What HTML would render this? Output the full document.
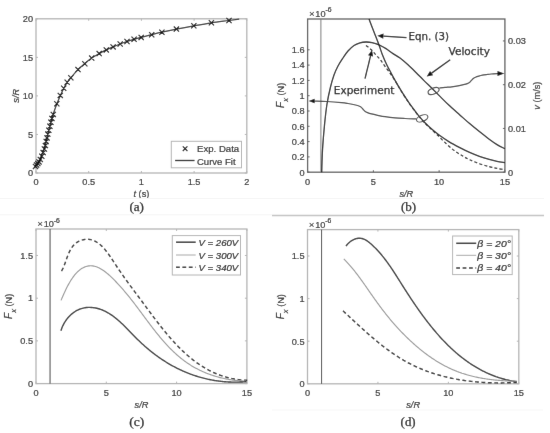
<!DOCTYPE html>
<html><head><meta charset="utf-8"><style>
html,body{margin:0;padding:0;background:#fff;}
svg{display:block;}
.t{font-family:"Liberation Sans",Arial,sans-serif;font-size:9.2px;fill:#2a2a2a;stroke:#2a2a2a;stroke-width:0.2px;}
.ann{font-family:"DejaVu Sans","Liberation Sans",sans-serif;font-size:10.4px;fill:#1a1a1a;stroke:#1a1a1a;stroke-width:0.25px;}
.lg{font-family:"Liberation Sans",Arial,sans-serif;font-size:9.6px;font-style:italic;fill:#222;stroke:#222;stroke-width:0.22px;}
.cap{font-family:"Liberation Serif","Times New Roman",serif;font-size:12.3px;fill:#1a1a1a;stroke:#1a1a1a;stroke-width:0.25px;}
</style></head><body>
<svg width="550" height="433" viewBox="0 0 550 433">
<defs><filter id="bl" x="0" y="0" width="550" height="433" filterUnits="userSpaceOnUse"><feConvolveMatrix order="3" kernelMatrix="0.0035 0.0587 0.0035 0.0587 1.0000 0.0587 0.0035 0.0587 0.0035" divisor="1.2488" edgeMode="duplicate" preserveAlpha="true"/></filter></defs>
<g filter="url(#bl)">
<rect width="550" height="433" fill="#fff"/>
<rect x="36.0" y="18.8" width="210.80" height="154.20" fill="none" stroke="#b4b4b4" stroke-width="1.3"/>
<line x1="36.00" y1="173.0" x2="36.00" y2="171.0" stroke="#b4b4b4" stroke-width="1"/>
<line x1="36.00" y1="18.8" x2="36.00" y2="20.8" stroke="#b4b4b4" stroke-width="1"/>
<text x="36.00" y="185.3" text-anchor="middle" class="t">0</text>
<line x1="88.70" y1="173.0" x2="88.70" y2="171.0" stroke="#b4b4b4" stroke-width="1"/>
<line x1="88.70" y1="18.8" x2="88.70" y2="20.8" stroke="#b4b4b4" stroke-width="1"/>
<text x="88.70" y="185.3" text-anchor="middle" class="t">0.5</text>
<line x1="141.40" y1="173.0" x2="141.40" y2="171.0" stroke="#b4b4b4" stroke-width="1"/>
<line x1="141.40" y1="18.8" x2="141.40" y2="20.8" stroke="#b4b4b4" stroke-width="1"/>
<text x="141.40" y="185.3" text-anchor="middle" class="t">1</text>
<line x1="194.10" y1="173.0" x2="194.10" y2="171.0" stroke="#b4b4b4" stroke-width="1"/>
<line x1="194.10" y1="18.8" x2="194.10" y2="20.8" stroke="#b4b4b4" stroke-width="1"/>
<text x="194.10" y="185.3" text-anchor="middle" class="t">1.5</text>
<line x1="246.80" y1="173.0" x2="246.80" y2="171.0" stroke="#b4b4b4" stroke-width="1"/>
<line x1="246.80" y1="18.8" x2="246.80" y2="20.8" stroke="#b4b4b4" stroke-width="1"/>
<text x="246.80" y="185.3" text-anchor="middle" class="t">2</text>
<line x1="36.0" y1="173.00" x2="38.0" y2="173.00" stroke="#b4b4b4" stroke-width="1"/>
<line x1="246.8" y1="173.00" x2="244.8" y2="173.00" stroke="#b4b4b4" stroke-width="1"/>
<text x="33.0" y="176.30" text-anchor="end" class="t">0</text>
<line x1="36.0" y1="134.45" x2="38.0" y2="134.45" stroke="#b4b4b4" stroke-width="1"/>
<line x1="246.8" y1="134.45" x2="244.8" y2="134.45" stroke="#b4b4b4" stroke-width="1"/>
<text x="33.0" y="137.75" text-anchor="end" class="t">5</text>
<line x1="36.0" y1="95.90" x2="38.0" y2="95.90" stroke="#b4b4b4" stroke-width="1"/>
<line x1="246.8" y1="95.90" x2="244.8" y2="95.90" stroke="#b4b4b4" stroke-width="1"/>
<text x="33.0" y="99.20" text-anchor="end" class="t">10</text>
<line x1="36.0" y1="57.35" x2="38.0" y2="57.35" stroke="#b4b4b4" stroke-width="1"/>
<line x1="246.8" y1="57.35" x2="244.8" y2="57.35" stroke="#b4b4b4" stroke-width="1"/>
<text x="33.0" y="60.65" text-anchor="end" class="t">15</text>
<line x1="36.0" y1="18.80" x2="38.0" y2="18.80" stroke="#b4b4b4" stroke-width="1"/>
<line x1="246.8" y1="18.80" x2="244.8" y2="18.80" stroke="#b4b4b4" stroke-width="1"/>
<text x="33.0" y="22.10" text-anchor="end" class="t">20</text>
<text x="141.4" y="197.3" text-anchor="middle" class="t"><tspan font-style="italic">t</tspan> (s)</text>
<text transform="translate(18.9,95.8) rotate(-90)" text-anchor="middle" class="t" font-style="italic">s/R</text>
<path transform="translate(0,0.4)" d="M34.50,167.00 C34.75,166.67 35.42,165.83 36.00,165.00 C36.58,164.17 37.33,163.08 38.00,162.00 C38.67,160.92 39.40,159.67 40.00,158.50 C40.60,157.33 41.05,156.33 41.60,155.00 C42.15,153.67 42.73,152.00 43.30,150.50 C43.87,149.00 44.52,147.58 45.00,146.00 C45.48,144.42 45.73,143.05 46.20,141.00 C46.67,138.95 47.18,136.22 47.80,133.70 C48.42,131.18 49.22,128.48 49.90,125.90 C50.58,123.32 51.28,120.42 51.90,118.20 C52.52,115.98 52.77,115.07 53.60,112.60 C54.43,110.13 55.77,106.33 56.90,103.40 C58.03,100.47 59.25,97.60 60.40,95.00 C61.55,92.40 62.67,89.98 63.80,87.80 C64.93,85.62 66.03,83.63 67.20,81.90 C68.37,80.17 69.00,79.52 70.80,77.40 C72.60,75.28 75.70,71.55 78.00,69.20 C80.30,66.85 82.32,65.22 84.60,63.30 C86.88,61.38 89.27,59.38 91.70,57.70 C94.13,56.02 96.77,54.57 99.20,53.20 C101.63,51.83 103.98,50.62 106.30,49.50 C108.62,48.38 110.78,47.48 113.10,46.50 C115.42,45.52 117.88,44.50 120.20,43.60 C122.52,42.70 124.68,41.88 127.00,41.10 C129.32,40.32 131.73,39.58 134.10,38.90 C136.47,38.22 138.27,37.77 141.20,37.00 C144.13,36.23 148.25,35.17 151.70,34.30 C155.15,33.43 157.78,32.73 161.90,31.80 C166.02,30.87 171.08,29.77 176.40,28.70 C181.72,27.63 187.97,26.45 193.80,25.40 C199.63,24.35 205.53,23.28 211.40,22.40 C217.27,21.52 224.37,20.72 229.00,20.10 C233.63,19.48 237.50,18.93 239.20,18.70" fill="none" stroke="#333" stroke-width="1.25"/>
<path transform="translate(0,0.4)" d="M32.90,163.40L38.10,168.60M32.90,168.60L38.10,163.40M34.00,162.00L39.20,167.20M34.00,167.20L39.20,162.00M35.20,160.60L40.40,165.80M35.20,165.80L40.40,160.60M36.40,158.90L41.60,164.10M36.40,164.10L41.60,158.90M37.70,156.40L42.90,161.60M37.70,161.60L42.90,156.40M39.20,153.20L44.40,158.40M39.20,158.40L44.40,153.20M40.60,149.60L45.80,154.80M40.60,154.80L45.80,149.60M41.80,146.00L47.00,151.20M41.80,151.20L47.00,146.00M42.80,142.60L48.00,147.80M42.80,147.80L48.00,142.60M43.60,138.40L48.80,143.60M43.60,143.60L48.80,138.40M44.40,134.90L49.60,140.10M44.40,140.10L49.60,134.90M45.20,131.10L50.40,136.30M45.20,136.30L50.40,131.10M46.20,127.20L51.40,132.40M46.20,132.40L51.40,127.20M47.30,123.30L52.50,128.50M47.30,128.50L52.50,123.30M48.30,119.20L53.50,124.40M48.30,124.40L53.50,119.20M49.30,115.40L54.50,120.60M49.30,120.60L54.50,115.40M50.70,111.40L55.90,116.60M50.70,116.60L55.90,111.40M54.20,100.70L59.40,105.90M54.20,105.90L59.40,100.70M57.70,92.40L62.90,97.60M57.70,97.60L62.90,92.40M61.10,85.20L66.30,90.40M61.10,90.40L66.30,85.20M64.60,79.30L69.80,84.50M64.60,84.50L69.80,79.30M68.20,74.80L73.40,80.00M68.20,80.00L73.40,74.80M75.40,66.60L80.60,71.80M75.40,71.80L80.60,66.60M82.20,60.80L87.40,66.00M82.20,66.00L87.40,60.80M89.10,55.10L94.30,60.30M89.10,60.30L94.30,55.10M96.60,50.60L101.80,55.80M96.60,55.80L101.80,50.60M103.70,46.90L108.90,52.10M103.70,52.10L108.90,46.90M110.50,43.90L115.70,49.10M110.50,49.10L115.70,43.90M117.60,41.00L122.80,46.20M117.60,46.20L122.80,41.00M124.40,38.50L129.60,43.70M124.40,43.70L129.60,38.50M131.50,36.30L136.70,41.50M131.50,41.50L136.70,36.30M138.60,34.40L143.80,39.60M138.60,39.60L143.80,34.40M149.10,31.70L154.30,36.90M149.10,36.90L154.30,31.70M159.30,29.20L164.50,34.40M159.30,34.40L164.50,29.20M173.80,26.10L179.00,31.30M173.80,31.30L179.00,26.10M191.20,22.80L196.40,28.00M191.20,28.00L196.40,22.80M208.80,19.80L214.00,25.00M208.80,25.00L214.00,19.80M226.40,17.50L231.60,22.70M226.40,22.70L231.60,17.50" fill="none" stroke="#111" stroke-width="1.1"/>
<rect x="171.3" y="141.3" width="70.2" height="26.5" fill="#fff" stroke="#b4b4b4" stroke-width="1"/>
<path d="M182.79999999999998,146.39999999999998L187.4,151.0M182.79999999999998,151.0L187.4,146.39999999999998" stroke="#111" stroke-width="1.1"/>
<text x="197.0" y="152.0" class="t" font-size="9.8" textLength="42.2" lengthAdjust="spacingAndGlyphs">Exp. Data</text>
<line x1="175.1" y1="160.5" x2="194.5" y2="160.5" stroke="#111" stroke-width="1.3"/>
<text x="197.0" y="164.8" class="t" font-size="9.8" textLength="38.6" lengthAdjust="spacingAndGlyphs">Curve Fit</text>
<text x="129.4" y="211.0" class="cap" textLength="14.6" lengthAdjust="spacingAndGlyphs">(a)</text>
<rect x="307.6" y="19.0" width="197.30" height="153.20" fill="none" stroke="#5e5e5e" stroke-width="1.3"/>
<line x1="307.60" y1="172.2" x2="307.60" y2="170.2" stroke="#5e5e5e" stroke-width="1"/>
<text x="307.60" y="185.0" text-anchor="middle" class="t">0</text>
<line x1="373.37" y1="172.2" x2="373.37" y2="170.2" stroke="#5e5e5e" stroke-width="1"/>
<text x="373.37" y="185.0" text-anchor="middle" class="t">5</text>
<line x1="439.13" y1="172.2" x2="439.13" y2="170.2" stroke="#5e5e5e" stroke-width="1"/>
<text x="439.13" y="185.0" text-anchor="middle" class="t">10</text>
<line x1="504.90" y1="172.2" x2="504.90" y2="170.2" stroke="#5e5e5e" stroke-width="1"/>
<text x="504.90" y="185.0" text-anchor="middle" class="t">15</text>
<line x1="307.6" y1="172.20" x2="309.6" y2="172.20" stroke="#5e5e5e" stroke-width="1"/>
<text x="304.6" y="175.50" text-anchor="end" class="t">0</text>
<line x1="307.6" y1="156.90" x2="309.6" y2="156.90" stroke="#5e5e5e" stroke-width="1"/>
<text x="304.6" y="160.20" text-anchor="end" class="t">0.2</text>
<line x1="307.6" y1="141.60" x2="309.6" y2="141.60" stroke="#5e5e5e" stroke-width="1"/>
<text x="304.6" y="144.90" text-anchor="end" class="t">0.4</text>
<line x1="307.6" y1="126.30" x2="309.6" y2="126.30" stroke="#5e5e5e" stroke-width="1"/>
<text x="304.6" y="129.60" text-anchor="end" class="t">0.6</text>
<line x1="307.6" y1="111.00" x2="309.6" y2="111.00" stroke="#5e5e5e" stroke-width="1"/>
<text x="304.6" y="114.30" text-anchor="end" class="t">0.8</text>
<line x1="307.6" y1="95.70" x2="309.6" y2="95.70" stroke="#5e5e5e" stroke-width="1"/>
<text x="304.6" y="99.00" text-anchor="end" class="t">1</text>
<line x1="307.6" y1="80.40" x2="309.6" y2="80.40" stroke="#5e5e5e" stroke-width="1"/>
<text x="304.6" y="83.70" text-anchor="end" class="t">1.2</text>
<line x1="307.6" y1="65.10" x2="309.6" y2="65.10" stroke="#5e5e5e" stroke-width="1"/>
<text x="304.6" y="68.40" text-anchor="end" class="t">1.4</text>
<line x1="307.6" y1="49.80" x2="309.6" y2="49.80" stroke="#5e5e5e" stroke-width="1"/>
<text x="304.6" y="53.10" text-anchor="end" class="t">1.6</text>
<line x1="504.9" y1="172.20" x2="502.9" y2="172.20" stroke="#5e5e5e" stroke-width="1"/>
<text x="508.0" y="175.50" class="t">0</text>
<line x1="504.9" y1="128.45" x2="502.9" y2="128.45" stroke="#5e5e5e" stroke-width="1"/>
<text x="508.0" y="131.75" class="t">0.01</text>
<line x1="504.9" y1="84.70" x2="502.9" y2="84.70" stroke="#5e5e5e" stroke-width="1"/>
<text x="508.0" y="88.00" class="t">0.02</text>
<line x1="504.9" y1="40.95" x2="502.9" y2="40.95" stroke="#5e5e5e" stroke-width="1"/>
<text x="508.0" y="44.25" class="t">0.03</text>
<line x1="320.9" y1="19.0" x2="320.9" y2="172.2" stroke="#7c7c7c" stroke-width="1"/>
<text x="309" y="16.8" class="t" font-size="8.4"><tspan font-size="9.8" stroke-width="0.1">×</tspan><tspan dx="0.6">10</tspan><tspan dy="-4.3" font-size="6.8">-6</tspan></text>
<text x="406.3" y="197.3" text-anchor="middle" class="t" font-style="italic">s/R</text>
<text transform="translate(283.6,95.3) rotate(-90)" text-anchor="middle" class="t"><tspan font-style="italic" font-size="10">F</tspan><tspan font-style="italic" dy="4.3" font-size="7.6">x</tspan><tspan dy="-4.3"> (N)</tspan></text>
<text transform="translate(539.5,95.6) rotate(-90)" text-anchor="middle" class="t"><tspan font-style="italic">v</tspan> (m/s)</text>
<text x="401.0" y="211.0" class="cap" textLength="15.2" lengthAdjust="spacingAndGlyphs">(b)</text>
<path d="M321.70,172.20 C321.83,168.50 322.03,157.87 322.50,150.00 C322.97,142.13 323.75,132.67 324.50,125.00 C325.25,117.33 326.00,110.33 327.00,104.00 C328.00,97.67 329.33,91.83 330.50,87.00 C331.67,82.17 332.75,78.50 334.00,75.00 C335.25,71.50 336.50,68.83 338.00,66.00 C339.50,63.17 341.33,60.50 343.00,58.00 C344.67,55.50 346.17,53.08 348.00,51.00 C349.83,48.92 352.00,46.87 354.00,45.50 C356.00,44.13 358.00,43.38 360.00,42.80 C362.00,42.22 364.00,42.03 366.00,42.00 C368.00,41.97 369.83,42.13 372.00,42.60 C374.17,43.07 376.67,43.80 379.00,44.80 C381.33,45.80 383.67,47.13 386.00,48.60 C388.33,50.07 390.67,52.02 393.00,53.60 C395.33,55.18 397.50,56.23 400.00,58.10 C402.50,59.97 405.30,62.37 408.00,64.80 C410.70,67.23 413.53,70.07 416.20,72.70 C418.87,75.33 421.30,77.92 424.00,80.60 C426.70,83.28 429.65,86.08 432.40,88.80 C435.15,91.52 437.82,94.23 440.50,96.90 C443.18,99.57 445.28,101.80 448.50,104.80 C451.72,107.80 456.28,111.77 459.80,114.90 C463.32,118.03 466.33,120.82 469.60,123.60 C472.87,126.38 476.13,129.00 479.40,131.60 C482.67,134.20 486.27,137.03 489.20,139.20 C492.13,141.37 494.38,143.00 497.00,144.60 C499.62,146.20 503.58,148.10 504.90,148.80" fill="none" stroke="#222" stroke-width="1.3"/>
<path d="M369.00,19.00 C369.83,21.17 372.33,27.67 374.00,32.00 C375.67,36.33 377.62,41.25 379.00,45.00 C380.38,48.75 381.05,51.30 382.30,54.50 C383.55,57.70 385.02,61.08 386.50,64.20 C387.98,67.32 389.75,70.47 391.20,73.20 C392.65,75.93 393.85,78.18 395.20,80.60 C396.55,83.02 397.95,85.43 399.30,87.70 C400.65,89.97 401.95,92.08 403.30,94.20 C404.65,96.32 406.05,98.40 407.40,100.40 C408.75,102.40 410.05,104.33 411.40,106.20 C412.75,108.07 414.17,109.87 415.50,111.60 C416.83,113.33 418.07,115.00 419.40,116.60 C420.73,118.20 421.60,119.25 423.50,121.20 C425.40,123.15 428.20,125.98 430.80,128.30 C433.40,130.62 436.10,132.88 439.10,135.10 C442.10,137.32 445.35,139.52 448.80,141.60 C452.25,143.68 456.33,145.80 459.80,147.60 C463.27,149.40 466.33,150.95 469.60,152.40 C472.87,153.85 476.13,155.13 479.40,156.30 C482.67,157.47 486.27,158.57 489.20,159.40 C492.13,160.23 494.38,160.77 497.00,161.30 C499.62,161.83 503.58,162.38 504.90,162.60" fill="none" stroke="#222" stroke-width="1.3"/>
<path d="M366.00,45.50 C366.83,46.17 369.33,47.92 371.00,49.50 C372.67,51.08 374.42,53.25 376.00,55.00 C377.58,56.75 379.00,58.12 380.50,60.00 C382.00,61.88 383.33,64.00 385.00,66.30 C386.67,68.60 388.80,71.37 390.50,73.80 C392.20,76.23 393.73,78.53 395.20,80.90 C396.67,83.27 397.95,85.73 399.30,88.00 C400.65,90.27 401.95,92.38 403.30,94.50 C404.65,96.62 406.05,98.70 407.40,100.70 C408.75,102.70 410.05,104.63 411.40,106.50 C412.75,108.37 414.17,110.17 415.50,111.90 C416.83,113.63 418.07,115.28 419.40,116.90 C420.73,118.52 422.23,120.22 423.50,121.60 C424.77,122.98 425.78,124.00 427.00,125.20 C428.22,126.40 429.02,127.12 430.80,128.80 C432.58,130.48 435.17,132.85 437.70,135.30 C440.23,137.75 443.23,140.95 446.00,143.50 C448.77,146.05 451.52,148.52 454.30,150.60 C457.08,152.68 460.15,154.48 462.70,156.00 C465.25,157.52 466.82,158.42 469.60,159.70 C472.38,160.98 476.13,162.55 479.40,163.70 C482.67,164.85 486.27,165.82 489.20,166.60 C492.13,167.38 494.38,167.90 497.00,168.40 C499.62,168.90 503.58,169.40 504.90,169.60" fill="none" stroke="#222" stroke-width="1.2" stroke-dasharray="3,2.2"/>
<text x="408.5" y="39.5" class="ann" textLength="40.5" lengthAdjust="spacingAndGlyphs">Eqn. (3)</text>
<text x="448.5" y="54.8" class="ann" textLength="41.5" lengthAdjust="spacingAndGlyphs">Velocity</text>
<text x="333.8" y="93.6" class="ann" textLength="60.6" lengthAdjust="spacingAndGlyphs">Experiment</text>
<line x1="406.50" y1="37.60" x2="383.39" y2="36.17" stroke="#222" stroke-width="1.3"/>
<path d="M377.40,35.80L383.55,33.58L383.23,38.77Z" fill="#111"/>
<line x1="450.20" y1="59.70" x2="431.57" y2="73.10" stroke="#222" stroke-width="1.3"/>
<path d="M426.70,76.60L430.05,70.99L433.09,75.21Z" fill="#111"/>
<line x1="365.00" y1="78.60" x2="370.57" y2="55.83" stroke="#222" stroke-width="1.3"/>
<path d="M372.00,50.00L373.10,56.45L368.05,55.21Z" fill="#111"/>
<ellipse cx="433.6" cy="91.0" rx="5.8" ry="2.9" transform="rotate(-22 433.6 91)" fill="none" stroke="#444" stroke-width="1.1"/>
<path d="M439.30,88.00 C440.25,87.90 442.92,87.60 445.00,87.40 C447.08,87.20 449.63,87.05 451.80,86.80 C453.97,86.55 456.05,86.25 458.00,85.90 C459.95,85.55 461.95,85.08 463.50,84.70 C465.05,84.32 466.25,84.02 467.30,83.60 C468.35,83.18 469.08,82.77 469.80,82.20 C470.52,81.63 471.02,80.82 471.60,80.20 C472.18,79.58 472.65,79.00 473.30,78.50 C473.95,78.00 474.58,77.60 475.50,77.20 C476.42,76.80 477.65,76.43 478.80,76.10 C479.95,75.77 481.03,75.47 482.40,75.20 C483.77,74.93 485.55,74.70 487.00,74.50 C488.45,74.30 489.18,74.17 491.10,74.00 C493.02,73.83 497.27,73.58 498.50,73.50" fill="none" stroke="#444" stroke-width="1.2"/>
<path d="M504.3,73.4 L497.5,70.9 L497.5,76.0 Z" fill="#111"/>
<ellipse cx="422.2" cy="118.4" rx="6" ry="3.1" transform="rotate(-22 422.2 118.4)" fill="none" stroke="#444" stroke-width="1.1"/>
<path d="M416.40,118.90 C414.50,118.83 408.57,118.67 405.00,118.50 C401.43,118.33 398.33,118.20 395.00,117.90 C391.67,117.60 387.88,117.13 385.00,116.70 C382.12,116.27 379.95,115.77 377.70,115.30 C375.45,114.83 373.20,114.35 371.50,113.90 C369.80,113.45 368.60,113.05 367.50,112.60 C366.40,112.15 365.62,111.72 364.90,111.20 C364.18,110.68 363.75,110.10 363.20,109.50 C362.65,108.90 362.22,108.13 361.60,107.60 C360.98,107.07 360.52,106.73 359.50,106.30 C358.48,105.87 357.42,105.47 355.50,105.00 C353.58,104.53 350.35,103.90 348.00,103.50 C345.65,103.10 344.93,102.93 341.40,102.60 C337.87,102.27 331.32,101.75 326.80,101.50 C322.28,101.25 316.38,101.17 314.30,101.10" fill="none" stroke="#444" stroke-width="1.2"/>
<path d="M308.7,101.0 L314.6,98.7 L314.6,103.3 Z" fill="#111"/>
<rect x="36.0" y="229.0" width="210.90" height="154.60" fill="none" stroke="#b4b4b4" stroke-width="1.3"/>
<line x1="36.00" y1="383.6" x2="36.00" y2="381.6" stroke="#b4b4b4" stroke-width="1"/>
<line x1="36.00" y1="229.0" x2="36.00" y2="231.0" stroke="#b4b4b4" stroke-width="1"/>
<text x="36.00" y="396.0" text-anchor="middle" class="t">0</text>
<line x1="106.30" y1="383.6" x2="106.30" y2="381.6" stroke="#b4b4b4" stroke-width="1"/>
<line x1="106.30" y1="229.0" x2="106.30" y2="231.0" stroke="#b4b4b4" stroke-width="1"/>
<text x="106.30" y="396.0" text-anchor="middle" class="t">5</text>
<line x1="176.60" y1="383.6" x2="176.60" y2="381.6" stroke="#b4b4b4" stroke-width="1"/>
<line x1="176.60" y1="229.0" x2="176.60" y2="231.0" stroke="#b4b4b4" stroke-width="1"/>
<text x="176.60" y="396.0" text-anchor="middle" class="t">10</text>
<line x1="246.90" y1="383.6" x2="246.90" y2="381.6" stroke="#b4b4b4" stroke-width="1"/>
<line x1="246.90" y1="229.0" x2="246.90" y2="231.0" stroke="#b4b4b4" stroke-width="1"/>
<text x="246.90" y="396.0" text-anchor="middle" class="t">15</text>
<line x1="36.0" y1="383.60" x2="38.0" y2="383.60" stroke="#b4b4b4" stroke-width="1"/>
<line x1="246.9" y1="383.60" x2="244.9" y2="383.60" stroke="#b4b4b4" stroke-width="1"/>
<text x="33.0" y="386.90" text-anchor="end" class="t">0</text>
<line x1="36.0" y1="340.89" x2="38.0" y2="340.89" stroke="#b4b4b4" stroke-width="1"/>
<line x1="246.9" y1="340.89" x2="244.9" y2="340.89" stroke="#b4b4b4" stroke-width="1"/>
<text x="33.0" y="344.19" text-anchor="end" class="t">0.5</text>
<line x1="36.0" y1="298.19" x2="38.0" y2="298.19" stroke="#b4b4b4" stroke-width="1"/>
<line x1="246.9" y1="298.19" x2="244.9" y2="298.19" stroke="#b4b4b4" stroke-width="1"/>
<text x="33.0" y="301.49" text-anchor="end" class="t">1</text>
<line x1="36.0" y1="255.48" x2="38.0" y2="255.48" stroke="#b4b4b4" stroke-width="1"/>
<line x1="246.9" y1="255.48" x2="244.9" y2="255.48" stroke="#b4b4b4" stroke-width="1"/>
<text x="33.0" y="258.78" text-anchor="end" class="t">1.5</text>
<line x1="50.06" y1="229.0" x2="50.06" y2="383.6" stroke="#444" stroke-width="1.0"/>
<text x="37.3" y="227.1" class="t" font-size="8.4"><tspan font-size="9.8" stroke-width="0.1">×</tspan><tspan dx="0.6">10</tspan><tspan dy="-4.3" font-size="6.8">-6</tspan></text>
<text x="141.45" y="408.1" text-anchor="middle" class="t" font-style="italic">s/R</text>
<text transform="translate(12.10,306.30) rotate(-90)" text-anchor="middle" class="t"><tspan font-style="italic" font-size="10">F</tspan><tspan font-style="italic" dy="4.3" font-size="7.6">x</tspan><tspan dy="-4.3"> (N)</tspan></text>
<text x="129.2" y="426.20000000000005" class="cap" textLength="15.0" lengthAdjust="spacingAndGlyphs">(c)</text>
<rect x="307.5" y="229.6" width="211.30" height="154.20" fill="none" stroke="#b4b4b4" stroke-width="1.3"/>
<line x1="307.50" y1="383.8" x2="307.50" y2="381.8" stroke="#b4b4b4" stroke-width="1"/>
<line x1="307.50" y1="229.6" x2="307.50" y2="231.6" stroke="#b4b4b4" stroke-width="1"/>
<text x="307.50" y="396.2" text-anchor="middle" class="t">0</text>
<line x1="377.93" y1="383.8" x2="377.93" y2="381.8" stroke="#b4b4b4" stroke-width="1"/>
<line x1="377.93" y1="229.6" x2="377.93" y2="231.6" stroke="#b4b4b4" stroke-width="1"/>
<text x="377.93" y="396.2" text-anchor="middle" class="t">5</text>
<line x1="448.37" y1="383.8" x2="448.37" y2="381.8" stroke="#b4b4b4" stroke-width="1"/>
<line x1="448.37" y1="229.6" x2="448.37" y2="231.6" stroke="#b4b4b4" stroke-width="1"/>
<text x="448.37" y="396.2" text-anchor="middle" class="t">10</text>
<line x1="518.80" y1="383.8" x2="518.80" y2="381.8" stroke="#b4b4b4" stroke-width="1"/>
<line x1="518.80" y1="229.6" x2="518.80" y2="231.6" stroke="#b4b4b4" stroke-width="1"/>
<text x="518.80" y="396.2" text-anchor="middle" class="t">15</text>
<line x1="307.5" y1="383.80" x2="309.5" y2="383.80" stroke="#b4b4b4" stroke-width="1"/>
<line x1="518.8" y1="383.80" x2="516.8" y2="383.80" stroke="#b4b4b4" stroke-width="1"/>
<text x="304.5" y="387.10" text-anchor="end" class="t">0</text>
<line x1="307.5" y1="341.20" x2="309.5" y2="341.20" stroke="#b4b4b4" stroke-width="1"/>
<line x1="518.8" y1="341.20" x2="516.8" y2="341.20" stroke="#b4b4b4" stroke-width="1"/>
<text x="304.5" y="344.50" text-anchor="end" class="t">0.5</text>
<line x1="307.5" y1="298.61" x2="309.5" y2="298.61" stroke="#b4b4b4" stroke-width="1"/>
<line x1="518.8" y1="298.61" x2="516.8" y2="298.61" stroke="#b4b4b4" stroke-width="1"/>
<text x="304.5" y="301.91" text-anchor="end" class="t">1</text>
<line x1="307.5" y1="256.01" x2="309.5" y2="256.01" stroke="#b4b4b4" stroke-width="1"/>
<line x1="518.8" y1="256.01" x2="516.8" y2="256.01" stroke="#b4b4b4" stroke-width="1"/>
<text x="304.5" y="259.31" text-anchor="end" class="t">1.5</text>
<line x1="321.59" y1="229.6" x2="321.59" y2="383.8" stroke="#444" stroke-width="1.0"/>
<text x="308.8" y="227.7" class="t" font-size="8.4"><tspan font-size="9.8" stroke-width="0.1">×</tspan><tspan dx="0.6">10</tspan><tspan dy="-4.3" font-size="6.8">-6</tspan></text>
<text x="413.15" y="408.3" text-anchor="middle" class="t" font-style="italic">s/R</text>
<text transform="translate(283.60,306.70) rotate(-90)" text-anchor="middle" class="t"><tspan font-style="italic" font-size="10">F</tspan><tspan font-style="italic" dy="4.3" font-size="7.6">x</tspan><tspan dy="-4.3"> (N)</tspan></text>
<text x="400.6" y="426.40000000000003" class="cap" textLength="15.0" lengthAdjust="spacingAndGlyphs">(d)</text>
<path d="M61.47,271.03 L61.89,270.38 L62.29,269.68 L62.69,268.93 L63.07,268.14 L63.44,267.31 L63.81,266.44 L64.17,265.53 L64.53,264.60 L64.88,263.64 L65.23,262.66 L65.59,261.66 L65.95,260.64 L66.31,259.61 L66.68,258.58 L67.06,257.54 L67.45,256.50 L67.85,255.46 L68.27,254.43 L68.70,253.40 L69.15,252.40 L69.62,251.41 L70.11,250.44 L70.63,249.49 L71.16,248.57 L71.73,247.69 L72.33,246.84 L72.95,246.03 L73.61,245.26 L74.30,244.54 L75.02,243.87 L75.77,243.24 L76.55,242.66 L77.36,242.12 L78.19,241.63 L79.03,241.19 L79.90,240.79 L80.78,240.44 L81.67,240.14 L82.57,239.88 L83.48,239.67 L84.40,239.51 L85.32,239.39 L86.24,239.32 L87.15,239.30 L88.07,239.32 L88.97,239.39 L89.87,239.50 L90.76,239.66 L91.63,239.87 L92.49,240.12 L93.33,240.41 L94.16,240.75 L94.98,241.13 L95.78,241.55 L96.57,242.00 L97.35,242.49 L98.12,243.02 L98.88,243.58 L99.62,244.17 L100.35,244.79 L101.08,245.44 L101.79,246.12 L102.50,246.82 L103.19,247.55 L103.88,248.30 L104.55,249.08 L105.22,249.87 L105.89,250.68 L106.54,251.51 L107.19,252.35 L107.83,253.21 L108.47,254.08 L109.10,254.96 L109.72,255.85 L110.34,256.75 L110.96,257.66 L111.57,258.57 L112.17,259.48 L112.78,260.40 L113.38,261.32 L113.98,262.23 L114.57,263.14 L115.17,264.05 L115.76,264.96 L116.35,265.86 L116.95,266.75 L117.54,267.63 L118.12,268.51 L118.71,269.38 L119.30,270.25 L119.89,271.11 L120.47,271.96 L121.06,272.81 L121.64,273.65 L122.23,274.49 L122.81,275.33 L123.40,276.15 L123.98,276.98 L124.56,277.80 L125.14,278.62 L125.72,279.43 L126.31,280.24 L126.89,281.04 L127.47,281.85 L128.05,282.65 L128.63,283.44 L129.21,284.24 L129.79,285.03 L130.37,285.82 L130.95,286.61 L131.53,287.39 L132.11,288.18 L132.69,288.96 L133.27,289.75 L133.85,290.53 L134.43,291.31 L135.01,292.09 L135.59,292.87 L136.17,293.65 L136.76,294.43 L137.34,295.21 L137.92,295.99 L138.50,296.78 L139.09,297.56 L139.67,298.34 L140.26,299.13 L140.84,299.92 L141.43,300.71 L142.01,301.50 L142.60,302.29 L143.19,303.09 L143.78,303.88 L144.37,304.68 L144.96,305.48 L145.55,306.28 L146.14,307.09 L146.74,307.89 L147.33,308.70 L147.93,309.50 L148.53,310.31 L149.12,311.12 L149.72,311.93 L150.33,312.74 L150.93,313.55 L151.53,314.36 L152.14,315.17 L152.75,315.98 L153.35,316.79 L153.96,317.60 L154.58,318.41 L155.19,319.22 L155.81,320.03 L156.42,320.84 L157.04,321.64 L157.66,322.45 L158.29,323.26 L158.91,324.06 L159.54,324.87 L160.17,325.67 L160.80,326.47 L161.43,327.27 L162.07,328.07 L162.71,328.86 L163.35,329.66 L163.99,330.45 L164.63,331.24 L165.28,332.03 L165.93,332.81 L166.59,333.60 L167.24,334.38 L167.90,335.16 L168.56,335.93 L169.22,336.71 L169.89,337.48 L170.56,338.24 L171.23,339.01 L171.91,339.77 L172.58,340.52 L173.26,341.28 L173.95,342.03 L174.64,342.77 L175.33,343.51 L176.02,344.25 L176.72,344.98 L177.42,345.71 L178.12,346.44 L178.83,347.16 L179.54,347.88 L180.25,348.59 L180.97,349.29 L181.69,350.00 L182.42,350.69 L183.14,351.38 L183.88,352.07 L184.61,352.75 L185.35,353.43 L186.10,354.10 L186.84,354.76 L187.59,355.42 L188.35,356.07 L189.11,356.72 L189.87,357.36 L190.64,357.99 L191.41,358.62 L192.19,359.24 L192.97,359.85 L193.76,360.46 L194.55,361.06 L195.34,361.66 L196.14,362.24 L196.94,362.82 L197.75,363.39 L198.56,363.96 L199.38,364.52 L200.20,365.07 L201.02,365.61 L201.86,366.14 L202.69,366.67 L203.53,367.19 L204.38,367.70 L205.23,368.20 L206.09,368.69 L206.95,369.17 L207.81,369.65 L208.68,370.12 L209.56,370.57 L210.44,371.02 L211.33,371.46 L212.22,371.89 L213.12,372.32 L214.02,372.73 L214.93,373.13 L215.85,373.52 L216.77,373.90 L217.69,374.28 L218.62,374.64 L219.56,374.99 L220.50,375.34 L221.45,375.67 L222.41,375.99 L223.37,376.30 L224.34,376.60 L225.31,376.89 L226.29,377.17 L227.27,377.44 L228.26,377.69 L229.26,377.94 L230.26,378.17 L231.27,378.39 L232.29,378.60 L233.31,378.80 L234.34,378.99 L235.38,379.16 L236.42,379.32 L237.47,379.48 L238.52,379.61 L239.59,379.74 L240.66,379.85 L241.73,379.95 L242.81,380.04 L243.90,380.12 L245.00,380.18 L246.10,380.23 L247.21,380.26" fill="none" stroke="#333" stroke-width="1.45" stroke-dasharray="3.8,2.6"/>
<path d="M61.04,300.37 L61.35,299.64 L61.67,298.88 L62.01,298.09 L62.36,297.28 L62.72,296.43 L63.10,295.57 L63.49,294.68 L63.89,293.78 L64.30,292.86 L64.73,291.92 L65.18,290.97 L65.63,290.01 L66.10,289.04 L66.58,288.07 L67.08,287.09 L67.58,286.11 L68.10,285.13 L68.64,284.15 L69.19,283.18 L69.75,282.21 L70.32,281.26 L70.90,280.31 L71.50,279.37 L72.12,278.46 L72.74,277.55 L73.38,276.67 L74.03,275.81 L74.70,274.97 L75.37,274.16 L76.06,273.38 L76.77,272.63 L77.48,271.90 L78.21,271.22 L78.95,270.57 L79.71,269.95 L80.48,269.38 L81.25,268.85 L82.04,268.35 L82.84,267.90 L83.64,267.49 L84.46,267.12 L85.28,266.79 L86.11,266.51 L86.94,266.27 L87.78,266.08 L88.62,265.93 L89.47,265.83 L90.32,265.78 L91.17,265.78 L92.02,265.82 L92.87,265.91 L93.72,266.06 L94.57,266.24 L95.42,266.47 L96.27,266.74 L97.12,267.06 L97.97,267.41 L98.82,267.80 L99.66,268.22 L100.50,268.68 L101.34,269.17 L102.18,269.69 L103.01,270.23 L103.84,270.81 L104.67,271.41 L105.49,272.03 L106.31,272.68 L107.12,273.34 L107.93,274.02 L108.73,274.72 L109.53,275.44 L110.32,276.17 L111.11,276.90 L111.89,277.65 L112.66,278.41 L113.43,279.17 L114.19,279.94 L114.94,280.71 L115.69,281.49 L116.42,282.26 L117.15,283.03 L117.87,283.80 L118.59,284.57 L119.30,285.35 L120.00,286.12 L120.69,286.89 L121.38,287.66 L122.06,288.43 L122.73,289.20 L123.40,289.98 L124.06,290.75 L124.72,291.52 L125.38,292.30 L126.02,293.07 L126.67,293.85 L127.31,294.62 L127.94,295.40 L128.57,296.17 L129.20,296.95 L129.82,297.73 L130.44,298.50 L131.06,299.28 L131.67,300.06 L132.28,300.84 L132.89,301.63 L133.49,302.41 L134.10,303.19 L134.70,303.98 L135.30,304.77 L135.90,305.55 L136.49,306.34 L137.09,307.13 L137.69,307.92 L138.28,308.72 L138.88,309.51 L139.47,310.31 L140.06,311.11 L140.66,311.91 L141.25,312.71 L141.85,313.51 L142.44,314.31 L143.04,315.12 L143.64,315.92 L144.24,316.73 L144.84,317.54 L145.44,318.35 L146.04,319.16 L146.64,319.97 L147.24,320.77 L147.85,321.58 L148.45,322.39 L149.06,323.20 L149.67,324.01 L150.28,324.82 L150.90,325.62 L151.51,326.43 L152.13,327.24 L152.75,328.04 L153.37,328.84 L153.99,329.64 L154.61,330.44 L155.24,331.24 L155.87,332.04 L156.50,332.83 L157.14,333.62 L157.78,334.41 L158.42,335.20 L159.06,335.98 L159.71,336.76 L160.36,337.54 L161.01,338.32 L161.66,339.09 L162.32,339.86 L162.98,340.62 L163.65,341.38 L164.32,342.14 L164.99,342.90 L165.67,343.64 L166.35,344.39 L167.03,345.13 L167.72,345.87 L168.41,346.60 L169.10,347.33 L169.80,348.05 L170.51,348.77 L171.22,349.48 L171.93,350.18 L172.65,350.88 L173.37,351.58 L174.10,352.27 L174.83,352.95 L175.56,353.63 L176.30,354.30 L177.05,354.96 L177.80,355.62 L178.56,356.27 L179.32,356.91 L180.09,357.55 L180.86,358.18 L181.64,358.80 L182.42,359.42 L183.21,360.02 L184.00,360.62 L184.80,361.22 L185.61,361.80 L186.42,362.37 L187.24,362.94 L188.06,363.50 L188.90,364.05 L189.73,364.59 L190.58,365.12 L191.42,365.65 L192.28,366.16 L193.14,366.67 L194.00,367.17 L194.88,367.66 L195.75,368.14 L196.63,368.61 L197.52,369.07 L198.41,369.53 L199.31,369.97 L200.21,370.41 L201.12,370.84 L202.03,371.26 L202.94,371.67 L203.86,372.07 L204.79,372.47 L205.72,372.85 L206.65,373.23 L207.59,373.59 L208.53,373.95 L209.47,374.30 L210.42,374.64 L211.37,374.98 L212.32,375.30 L213.28,375.62 L214.24,375.92 L215.21,376.22 L216.17,376.51 L217.15,376.79 L218.12,377.06 L219.09,377.32 L220.07,377.58 L221.05,377.82 L222.04,378.06 L223.02,378.28 L224.01,378.50 L225.00,378.71 L225.99,378.91 L226.99,379.10 L227.98,379.29 L228.98,379.46 L229.98,379.62 L230.98,379.78 L231.98,379.93 L232.98,380.07 L233.98,380.20 L234.99,380.32 L235.99,380.43 L237.00,380.53 L238.01,380.63 L239.01,380.71 L240.02,380.79 L241.03,380.85 L242.04,380.91 L243.05,380.96 L244.06,381.00 L245.07,381.03 L246.07,381.06" fill="none" stroke="#999" stroke-width="1.15"/>
<path d="M60.92,330.78 L61.26,329.71 L61.63,328.65 L62.04,327.60 L62.47,326.58 L62.93,325.57 L63.41,324.59 L63.93,323.62 L64.47,322.68 L65.03,321.76 L65.62,320.86 L66.23,319.98 L66.86,319.13 L67.52,318.30 L68.20,317.49 L68.90,316.72 L69.62,315.96 L70.36,315.24 L71.11,314.54 L71.89,313.87 L72.68,313.23 L73.49,312.62 L74.31,312.04 L75.15,311.49 L76.00,310.98 L76.87,310.49 L77.75,310.04 L78.64,309.62 L79.54,309.24 L80.46,308.89 L81.38,308.58 L82.31,308.30 L83.25,308.06 L84.20,307.86 L85.16,307.70 L86.12,307.57 L87.09,307.47 L88.05,307.42 L89.03,307.39 L90.00,307.39 L90.97,307.43 L91.95,307.50 L92.92,307.60 L93.89,307.72 L94.85,307.88 L95.81,308.06 L96.77,308.27 L97.71,308.50 L98.65,308.76 L99.59,309.04 L100.51,309.35 L101.42,309.68 L102.32,310.02 L103.21,310.39 L104.09,310.78 L104.97,311.20 L105.83,311.62 L106.69,312.07 L107.54,312.54 L108.38,313.02 L109.21,313.52 L110.03,314.04 L110.85,314.58 L111.66,315.12 L112.46,315.69 L113.26,316.27 L114.05,316.86 L114.84,317.46 L115.62,318.08 L116.39,318.71 L117.16,319.35 L117.92,320.00 L118.68,320.66 L119.44,321.34 L120.19,322.02 L120.94,322.71 L121.69,323.40 L122.43,324.11 L123.17,324.82 L123.90,325.54 L124.64,326.26 L125.37,326.99 L126.10,327.72 L126.83,328.46 L127.56,329.20 L128.28,329.95 L129.01,330.69 L129.74,331.44 L130.46,332.19 L131.19,332.94 L131.91,333.69 L132.64,334.44 L133.37,335.19 L134.10,335.94 L134.83,336.68 L135.56,337.43 L136.30,338.16 L137.03,338.90 L137.77,339.63 L138.51,340.36 L139.26,341.08 L140.01,341.79 L140.76,342.50 L141.51,343.21 L142.27,343.91 L143.03,344.60 L143.80,345.29 L144.56,345.97 L145.33,346.65 L146.10,347.32 L146.88,347.99 L147.66,348.65 L148.44,349.31 L149.22,349.96 L150.01,350.60 L150.80,351.24 L151.59,351.87 L152.39,352.50 L153.19,353.12 L153.99,353.74 L154.80,354.35 L155.60,354.95 L156.41,355.55 L157.23,356.14 L158.05,356.73 L158.87,357.31 L159.69,357.88 L160.51,358.45 L161.34,359.02 L162.17,359.57 L163.01,360.12 L163.85,360.67 L164.69,361.21 L165.53,361.74 L166.37,362.26 L167.22,362.78 L168.08,363.30 L168.93,363.81 L169.79,364.31 L170.65,364.80 L171.51,365.29 L172.38,365.77 L173.25,366.25 L174.12,366.72 L175.00,367.18 L175.87,367.64 L176.75,368.09 L177.64,368.53 L178.52,368.97 L179.41,369.40 L180.31,369.82 L181.20,370.24 L182.10,370.65 L183.00,371.05 L183.90,371.45 L184.81,371.84 L185.72,372.22 L186.63,372.60 L187.55,372.97 L188.47,373.33 L189.39,373.69 L190.31,374.04 L191.24,374.38 L192.17,374.71 L193.10,375.04 L194.04,375.36 L194.97,375.68 L195.92,375.99 L196.86,376.29 L197.81,376.58 L198.75,376.86 L199.71,377.14 L200.66,377.41 L201.62,377.68 L202.58,377.93 L203.54,378.18 L204.51,378.42 L205.48,378.66 L206.45,378.89 L207.43,379.11 L208.40,379.32 L209.38,379.52 L210.37,379.72 L211.35,379.91 L212.34,380.09 L213.33,380.27 L214.33,380.44 L215.32,380.59 L216.32,380.75 L217.33,380.89 L218.33,381.03 L219.34,381.16 L220.35,381.28 L221.36,381.39 L222.38,381.50 L223.40,381.59 L224.42,381.68 L225.45,381.76 L226.47,381.84 L227.50,381.90 L228.54,381.96 L229.57,382.01 L230.61,382.05 L231.65,382.09 L232.70,382.11 L233.74,382.13 L234.79,382.14 L235.84,382.14 L236.90,382.13 L237.96,382.12 L239.02,382.09 L240.08,382.06 L241.15,382.02 L242.21,381.97 L243.28,381.91 L244.36,381.85 L245.44,381.77 L246.51,381.69" fill="none" stroke="#383838" stroke-width="1.4"/>
<rect x="172.3" y="235.6" width="68.2" height="39.4" fill="#fff" stroke="#b4b4b4" stroke-width="1"/>
<line x1="176" y1="242.2" x2="195.7" y2="242.2" stroke="#333" stroke-width="1.5"/>
<line x1="176" y1="255.0" x2="195.7" y2="255.0" stroke="#a8a8a8" stroke-width="1.0"/>
<line x1="176" y1="267.2" x2="195.7" y2="267.2" stroke="#333" stroke-width="1.45" stroke-dasharray="3.8,2.6"/>
<text x="198.5" y="246.3" class="lg">V = 260V</text>
<text x="198.5" y="258.6" class="lg">V = 300V</text>
<text x="198.5" y="270.8" class="lg">V = 340V</text>
<path d="M346.02,246.12 L346.61,245.27 L347.26,244.45 L347.97,243.65 L348.73,242.90 L349.55,242.18 L350.41,241.51 L351.30,240.89 L352.22,240.32 L353.18,239.81 L354.14,239.36 L355.13,238.98 L356.12,238.67 L357.11,238.44 L358.09,238.29 L359.07,238.22 L360.03,238.23 L360.97,238.33 L361.90,238.51 L362.81,238.76 L363.70,239.08 L364.58,239.46 L365.45,239.90 L366.30,240.39 L367.14,240.92 L367.96,241.50 L368.78,242.11 L369.58,242.74 L370.37,243.41 L371.14,244.09 L371.91,244.78 L372.67,245.49 L373.41,246.19 L374.15,246.91 L374.87,247.63 L375.59,248.35 L376.30,249.08 L377.00,249.81 L377.69,250.55 L378.37,251.29 L379.04,252.04 L379.70,252.79 L380.36,253.55 L381.01,254.31 L381.65,255.07 L382.29,255.84 L382.91,256.61 L383.54,257.39 L384.15,258.17 L384.76,258.95 L385.36,259.74 L385.96,260.53 L386.55,261.33 L387.14,262.13 L387.72,262.93 L388.29,263.73 L388.87,264.54 L389.43,265.35 L390.00,266.16 L390.56,266.97 L391.12,267.79 L391.67,268.61 L392.22,269.44 L392.77,270.26 L393.31,271.09 L393.85,271.92 L394.39,272.75 L394.93,273.58 L395.47,274.42 L396.00,275.25 L396.54,276.09 L397.07,276.93 L397.60,277.77 L398.13,278.62 L398.67,279.46 L399.20,280.31 L399.73,281.15 L400.26,282.00 L400.80,282.85 L401.33,283.70 L401.86,284.55 L402.40,285.40 L402.94,286.25 L403.48,287.10 L404.02,287.95 L404.56,288.80 L405.11,289.65 L405.65,290.50 L406.20,291.36 L406.75,292.21 L407.30,293.06 L407.85,293.91 L408.41,294.76 L408.97,295.61 L409.52,296.46 L410.08,297.32 L410.64,298.17 L411.21,299.02 L411.77,299.86 L412.34,300.71 L412.91,301.56 L413.48,302.41 L414.06,303.25 L414.63,304.10 L415.21,304.94 L415.79,305.79 L416.37,306.63 L416.95,307.47 L417.54,308.31 L418.13,309.15 L418.72,309.99 L419.31,310.82 L419.90,311.65 L420.50,312.49 L421.10,313.32 L421.70,314.15 L422.30,314.98 L422.91,315.80 L423.52,316.62 L424.13,317.45 L424.74,318.27 L425.36,319.08 L425.98,319.90 L426.60,320.71 L427.22,321.52 L427.85,322.33 L428.47,323.14 L429.10,323.94 L429.74,324.74 L430.37,325.54 L431.01,326.34 L431.66,327.13 L432.30,327.92 L432.95,328.71 L433.60,329.50 L434.25,330.28 L434.90,331.06 L435.56,331.83 L436.22,332.60 L436.89,333.37 L437.56,334.14 L438.23,334.90 L438.90,335.66 L439.57,336.41 L440.25,337.17 L440.94,337.91 L441.62,338.66 L442.31,339.40 L443.00,340.13 L443.70,340.87 L444.39,341.60 L445.09,342.32 L445.80,343.04 L446.51,343.76 L447.22,344.47 L447.93,345.18 L448.65,345.88 L449.37,346.58 L450.09,347.27 L450.82,347.96 L451.55,348.65 L452.29,349.33 L453.02,350.00 L453.76,350.67 L454.51,351.34 L455.26,352.00 L456.01,352.66 L456.76,353.31 L457.52,353.95 L458.29,354.59 L459.05,355.23 L459.82,355.86 L460.60,356.48 L461.37,357.10 L462.16,357.71 L462.94,358.32 L463.73,358.92 L464.52,359.52 L465.32,360.11 L466.12,360.69 L466.92,361.27 L467.73,361.84 L468.55,362.41 L469.36,362.97 L470.18,363.52 L471.01,364.07 L471.84,364.61 L472.67,365.15 L473.51,365.67 L474.35,366.20 L475.19,366.71 L476.04,367.22 L476.89,367.72 L477.75,368.22 L478.61,368.70 L479.48,369.18 L480.35,369.66 L481.23,370.12 L482.10,370.58 L482.99,371.04 L483.88,371.48 L484.77,371.92 L485.67,372.35 L486.57,372.77 L487.47,373.19 L488.38,373.60 L489.30,374.00 L490.22,374.39 L491.14,374.77 L492.07,375.15 L493.01,375.52 L493.94,375.88 L494.89,376.23 L495.83,376.58 L496.79,376.91 L497.74,377.24 L498.71,377.56 L499.67,377.87 L500.64,378.17 L501.62,378.47 L502.60,378.75 L503.59,379.03 L504.58,379.30 L505.58,379.56 L506.58,379.81 L507.59,380.05 L508.60,380.28 L509.61,380.51 L510.64,380.72 L511.66,380.93 L512.69,381.12 L513.73,381.31 L514.77,381.49 L515.82,381.66 L516.87,381.81" fill="none" stroke="#383838" stroke-width="1.4"/>
<path d="M343.81,258.91 L344.53,259.62 L345.23,260.35 L345.94,261.08 L346.63,261.81 L347.32,262.55 L348.00,263.29 L348.67,264.04 L349.34,264.79 L350.01,265.55 L350.66,266.31 L351.32,267.08 L351.96,267.85 L352.60,268.62 L353.24,269.40 L353.87,270.18 L354.50,270.97 L355.12,271.76 L355.74,272.55 L356.36,273.34 L356.97,274.14 L357.58,274.94 L358.18,275.74 L358.78,276.55 L359.38,277.36 L359.98,278.17 L360.57,278.98 L361.16,279.80 L361.74,280.61 L362.33,281.43 L362.91,282.25 L363.49,283.07 L364.07,283.89 L364.65,284.71 L365.23,285.54 L365.80,286.36 L366.38,287.19 L366.95,288.02 L367.53,288.84 L368.10,289.67 L368.67,290.50 L369.25,291.32 L369.82,292.15 L370.39,292.98 L370.97,293.80 L371.54,294.63 L372.12,295.45 L372.70,296.28 L373.27,297.10 L373.85,297.92 L374.44,298.74 L375.02,299.56 L375.60,300.38 L376.19,301.20 L376.78,302.01 L377.37,302.83 L377.96,303.64 L378.55,304.45 L379.15,305.26 L379.75,306.07 L380.35,306.88 L380.95,307.68 L381.56,308.49 L382.16,309.29 L382.77,310.09 L383.39,310.88 L384.00,311.68 L384.62,312.47 L385.24,313.27 L385.86,314.06 L386.49,314.84 L387.12,315.63 L387.75,316.41 L388.38,317.20 L389.02,317.97 L389.66,318.75 L390.30,319.53 L390.95,320.30 L391.60,321.07 L392.25,321.83 L392.91,322.60 L393.57,323.36 L394.23,324.12 L394.90,324.88 L395.57,325.63 L396.25,326.38 L396.92,327.13 L397.60,327.88 L398.29,328.62 L398.97,329.36 L399.67,330.10 L400.36,330.84 L401.06,331.57 L401.76,332.30 L402.46,333.02 L403.17,333.75 L403.88,334.47 L404.59,335.19 L405.31,335.90 L406.03,336.61 L406.75,337.32 L407.48,338.03 L408.21,338.73 L408.94,339.43 L409.68,340.12 L410.42,340.82 L411.16,341.50 L411.91,342.19 L412.66,342.87 L413.41,343.55 L414.16,344.22 L414.92,344.89 L415.69,345.56 L416.45,346.22 L417.22,346.88 L417.99,347.53 L418.77,348.18 L419.55,348.83 L420.33,349.47 L421.12,350.10 L421.91,350.74 L422.70,351.36 L423.50,351.98 L424.29,352.60 L425.10,353.21 L425.90,353.82 L426.71,354.42 L427.53,355.02 L428.34,355.61 L429.16,356.19 L429.98,356.77 L430.81,357.34 L431.64,357.91 L432.47,358.47 L433.31,359.03 L434.15,359.58 L435.00,360.13 L435.84,360.66 L436.69,361.20 L437.55,361.72 L438.41,362.24 L439.27,362.75 L440.13,363.26 L441.00,363.76 L441.87,364.25 L442.75,364.74 L443.63,365.21 L444.51,365.69 L445.39,366.15 L446.28,366.61 L447.18,367.06 L448.07,367.50 L448.97,367.93 L449.88,368.36 L450.78,368.78 L451.69,369.19 L452.61,369.60 L453.53,369.99 L454.45,370.38 L455.37,370.76 L456.30,371.13 L457.23,371.50 L458.17,371.85 L459.11,372.20 L460.05,372.54 L461.00,372.87 L461.94,373.20 L462.90,373.51 L463.85,373.82 L464.81,374.12 L465.77,374.41 L466.74,374.70 L467.70,374.98 L468.67,375.25 L469.64,375.51 L470.62,375.77 L471.59,376.02 L472.57,376.26 L473.55,376.49 L474.54,376.72 L475.52,376.94 L476.51,377.16 L477.50,377.37 L478.49,377.57 L479.49,377.76 L480.48,377.95 L481.48,378.13 L482.48,378.31 L483.48,378.48 L484.48,378.65 L485.48,378.80 L486.48,378.96 L487.49,379.10 L488.49,379.24 L489.50,379.38 L490.51,379.51 L491.52,379.63 L492.53,379.75 L493.54,379.86 L494.55,379.97 L495.56,380.07 L496.57,380.17 L497.58,380.26 L498.59,380.35 L499.61,380.43 L500.62,380.51 L501.63,380.58 L502.64,380.65 L503.66,380.72 L504.67,380.78 L505.68,380.83 L506.69,380.88 L507.70,380.93 L508.71,380.97 L509.72,381.01 L510.73,381.04 L511.74,381.07 L512.75,381.10 L513.76,381.12 L514.76,381.14 L515.77,381.16 L516.77,381.17" fill="none" stroke="#999" stroke-width="1.15"/>
<path d="M343.02,310.84 L343.75,311.51 L344.47,312.18 L345.20,312.86 L345.93,313.54 L346.66,314.22 L347.39,314.89 L348.12,315.58 L348.85,316.26 L349.58,316.94 L350.31,317.62 L351.05,318.30 L351.78,318.99 L352.52,319.67 L353.25,320.35 L353.99,321.04 L354.73,321.72 L355.47,322.41 L356.21,323.09 L356.95,323.77 L357.69,324.46 L358.44,325.14 L359.18,325.82 L359.93,326.51 L360.68,327.19 L361.43,327.87 L362.18,328.55 L362.93,329.23 L363.68,329.90 L364.44,330.58 L365.19,331.25 L365.95,331.93 L366.71,332.60 L367.47,333.27 L368.23,333.94 L368.99,334.61 L369.76,335.27 L370.52,335.94 L371.29,336.60 L372.06,337.26 L372.84,337.92 L373.61,338.57 L374.39,339.23 L375.16,339.88 L375.94,340.52 L376.72,341.17 L377.51,341.81 L378.29,342.45 L379.08,343.09 L379.87,343.72 L380.66,344.35 L381.45,344.98 L382.25,345.60 L383.05,346.22 L383.85,346.84 L384.65,347.45 L385.45,348.06 L386.26,348.67 L387.07,349.27 L387.88,349.87 L388.70,350.46 L389.51,351.05 L390.33,351.64 L391.15,352.22 L391.98,352.79 L392.80,353.37 L393.63,353.93 L394.46,354.50 L395.30,355.05 L396.14,355.61 L396.97,356.15 L397.82,356.70 L398.66,357.24 L399.51,357.77 L400.36,358.29 L401.22,358.82 L402.07,359.33 L402.93,359.84 L403.79,360.35 L404.66,360.84 L405.53,361.34 L406.40,361.82 L407.28,362.30 L408.15,362.78 L409.03,363.25 L409.92,363.71 L410.81,364.16 L411.70,364.61 L412.59,365.05 L413.49,365.49 L414.39,365.92 L415.29,366.35 L416.19,366.76 L417.10,367.18 L418.01,367.58 L418.93,367.98 L419.84,368.37 L420.76,368.76 L421.68,369.14 L422.61,369.52 L423.53,369.89 L424.46,370.25 L425.40,370.61 L426.33,370.96 L427.27,371.31 L428.21,371.65 L429.15,371.99 L430.09,372.32 L431.04,372.64 L431.99,372.96 L432.94,373.27 L433.89,373.58 L434.85,373.88 L435.80,374.17 L436.76,374.46 L437.72,374.75 L438.69,375.03 L439.65,375.30 L440.62,375.57 L441.59,375.83 L442.56,376.09 L443.53,376.34 L444.50,376.59 L445.48,376.83 L446.46,377.07 L447.44,377.30 L448.42,377.53 L449.40,377.75 L450.38,377.97 L451.37,378.18 L452.35,378.38 L453.34,378.59 L454.33,378.78 L455.32,378.97 L456.31,379.16 L457.31,379.34 L458.30,379.52 L459.30,379.69 L460.30,379.86 L461.29,380.02 L462.29,380.18 L463.29,380.33 L464.29,380.48 L465.30,380.62 L466.30,380.76 L467.30,380.89 L468.31,381.02 L469.31,381.15 L470.32,381.27 L471.33,381.38 L472.33,381.49 L473.34,381.60 L474.35,381.70 L475.36,381.80 L476.37,381.90 L477.38,381.99 L478.39,382.07 L479.41,382.15 L480.42,382.23 L481.43,382.30 L482.44,382.37 L483.45,382.43 L484.47,382.49 L485.48,382.55 L486.49,382.60 L487.51,382.65 L488.52,382.69 L489.54,382.73 L490.55,382.77 L491.56,382.80 L492.58,382.83 L493.59,382.85 L494.60,382.87 L495.62,382.89 L496.63,382.90 L497.64,382.91 L498.66,382.92 L499.67,382.92 L500.68,382.92 L501.69,382.91 L502.70,382.90 L503.71,382.89 L504.72,382.88 L505.73,382.86 L506.74,382.83 L507.75,382.81 L508.76,382.78 L509.77,382.74 L510.77,382.71 L511.78,382.67 L512.78,382.62 L513.79,382.58 L514.79,382.53 L515.79,382.47 L516.79,382.42" fill="none" stroke="#333" stroke-width="1.45" stroke-dasharray="3.8,2.6"/>
<rect x="452.6" y="236.0" width="59.6" height="38.6" fill="#fff" stroke="#b4b4b4" stroke-width="1"/>
<line x1="456.2" y1="243.3" x2="476.2" y2="243.3" stroke="#333" stroke-width="1.5"/>
<line x1="456.2" y1="255.3" x2="476.2" y2="255.3" stroke="#a8a8a8" stroke-width="1.0"/>
<line x1="456.2" y1="267.9" x2="476.2" y2="267.9" stroke="#333" stroke-width="1.45" stroke-dasharray="3.8,2.6"/>
<text x="477.3" y="247.1" class="lg" textLength="33.6" lengthAdjust="spacingAndGlyphs">β = 20°</text>
<text x="477.3" y="259.0" class="lg" textLength="33.6" lengthAdjust="spacingAndGlyphs">β = 30°</text>
<text x="477.3" y="271.3" class="lg" textLength="33.6" lengthAdjust="spacingAndGlyphs">β = 40°</text>
<line x1="0" y1="198.5" x2="544" y2="198.5" stroke="#f5f5f5" stroke-width="1"/>
<line x1="0" y1="214.8" x2="272" y2="214.8" stroke="#f5f5f5" stroke-width="1"/>
<line x1="272" y1="215.5" x2="544" y2="215.5" stroke="#c4c4c4" stroke-width="1.3"/>
<line x1="272" y1="410" x2="543" y2="410" stroke="#f7f7f7" stroke-width="1"/>
</g>
</svg>
</body></html>
